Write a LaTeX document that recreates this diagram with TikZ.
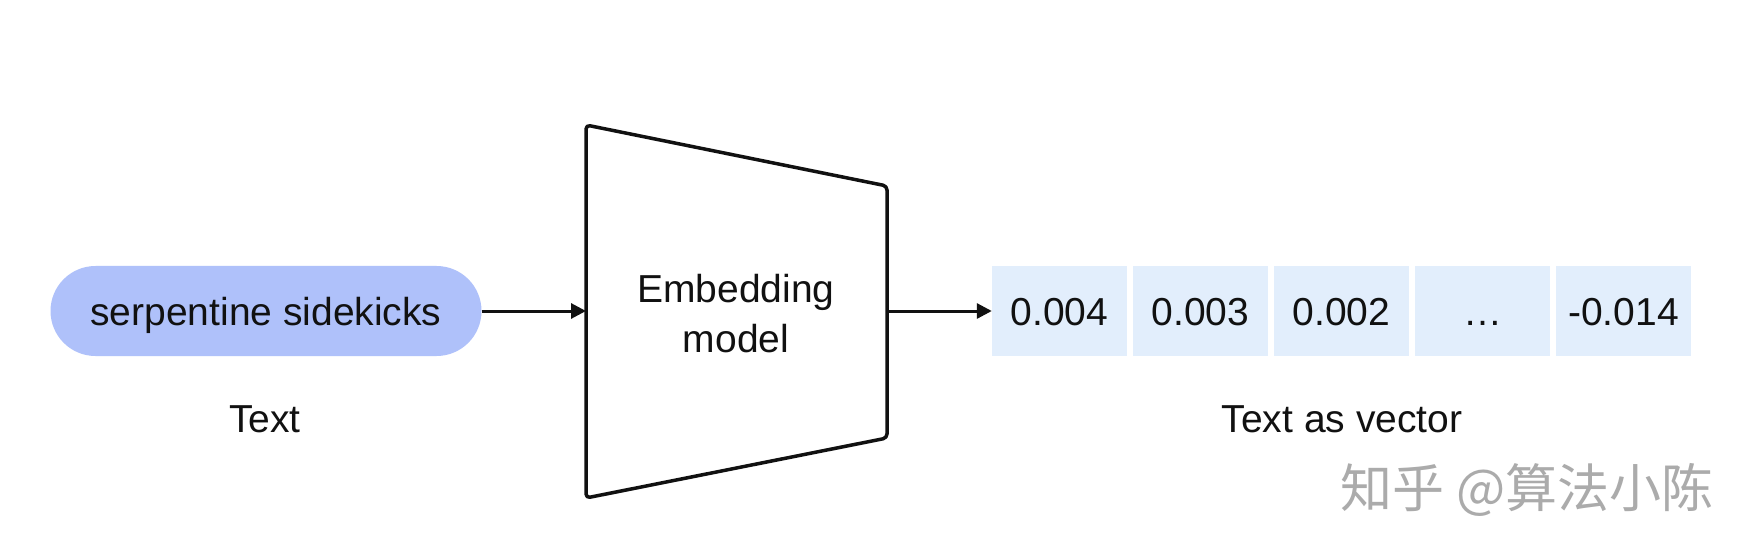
\documentclass[tikz,border=0pt]{standalone}
\usepackage{fontspec}
\setmainfont{Liberation Sans}
\newfontfamily\cjk{Noto Sans CJK SC}
\usetikzlibrary{arrows.meta}
\definecolor{pillblue}{HTML}{AFC1FA}
\definecolor{cellblue}{HTML}{E2EEFC}
\definecolor{ink}{HTML}{111111}
\definecolor{wmgray}{HTML}{ABABAB}
\tikzset{
  lbl/.style={font=\fontsize{39}{50}\selectfont, text=ink, inner sep=0pt},
  pill/.style={lbl, fill=pillblue, rounded corners=45pt, minimum width=431pt, minimum height=90pt, text height=28pt, text depth=0pt},
  cell/.style={lbl, fill=cellblue, minimum width=135pt, minimum height=90pt, text height=28pt, text depth=0pt},
  conn/.style={draw=ink, line width=3pt, -{Triangle[length=15pt,width=15pt]}},
  modelshape/.style={draw=ink, line width=3.5pt, rounded corners=4pt, line join=round},
}
\begin{document}
\begin{tikzpicture}[x=1pt, y=-1pt]
\useasboundingbox[fill=white] (0,0) rectangle (1762,556);
% input text
\node[pill] (pill) at (266,311) {serpentine sidekicks};
\node[lbl, anchor=base] (textlbl) at (265,432) {Text};
% embedding model trapezoid
\coordinate (tl) at (586,125);
\coordinate (tr) at (887,186);
\coordinate (br) at (887,438);
\coordinate (bl) at (586,498);
\draw[modelshape] (tl) -- (tr) -- (br) -- (bl) -- cycle;
\node[lbl, align=center] (model) at (736,314) {Embedding\\model};
% vector cells
\node[cell] (c1) at (1059.5,311) {0.004};
\node[cell] (c2) at (1200.5,311) {0.003};
\node[cell] (c3) at (1341.5,311) {0.002};
\node[cell] (c4) at (1482.5,311) {…};
\node[cell] (c5) at (1623.5,311) {-0.014};
\node[lbl, anchor=base] (veclbl) at (1342,432) {Text as vector};
% connectors
\draw[conn] (pill.east) -- (pill.east -| tl);
\draw[conn] (c1.west -| tr) -- (c1.west);
% watermark
\node[font=\cjk\fontsize{52}{56}\selectfont, text=wmgray, inner sep=0pt] (wm) at (1527,490) {知乎 @算法小陈};
\end{tikzpicture}
\end{document}
